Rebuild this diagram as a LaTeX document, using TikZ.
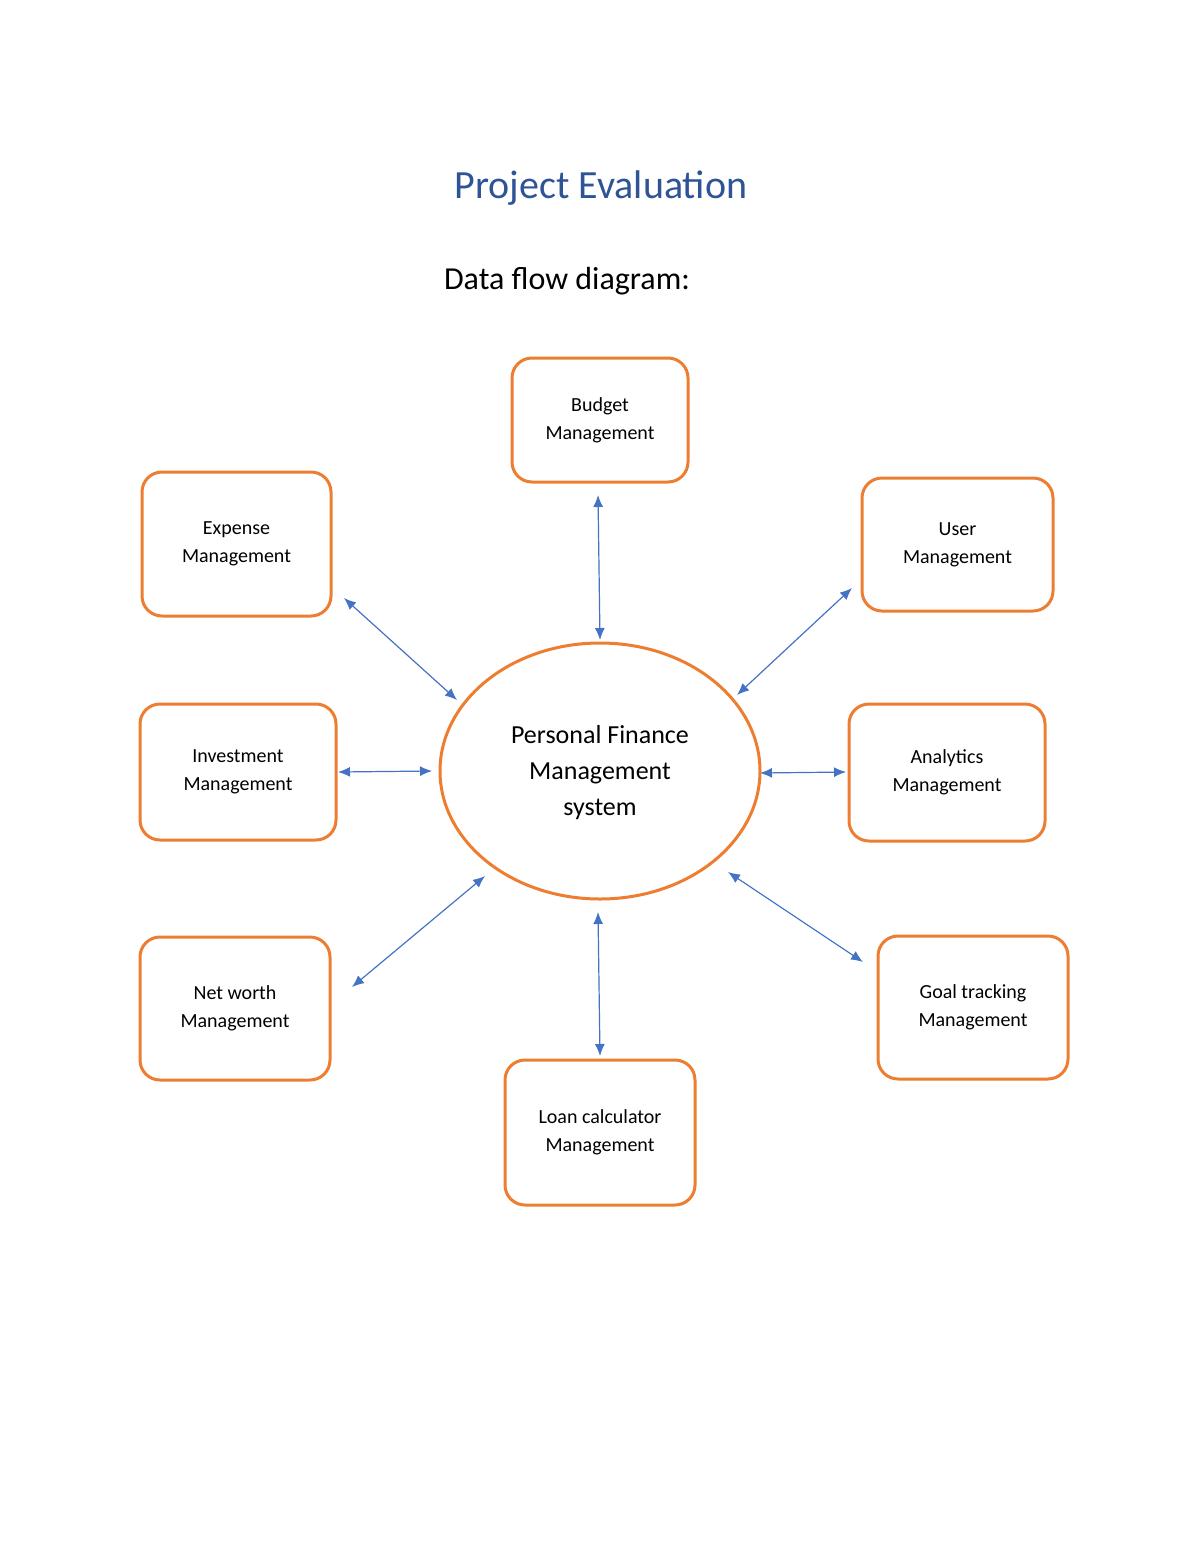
\documentclass[tikz,border=0pt]{standalone}
\usepackage{fontspec}
\setmainfont{Carlito}
\usetikzlibrary{arrows.meta,shapes.geometric}
\definecolor{org}{HTML}{ED7D31}
\definecolor{blu}{HTML}{4472C4}
\definecolor{ttl}{HTML}{2F5496}
\newcommand\mybox[6]{\draw[box] (#2,#3) rectangle (#4,#5); \node[align=center,font=\fontsize{10}{14}\selectfont] (#1) at ({(#2+#4)/2},{(#3+#5)/2}) {#6};}
\begin{document}
\begin{tikzpicture}[x=0.5pt,y=-0.5pt,
  box/.style={draw=org,line width=1.5pt,rounded corners=10pt},
  arr/.style={blu,line width=0.6pt,{Latex[length=6pt,width=5pt]}-{Latex[length=6pt,width=5pt]}}]
\useasboundingbox (0,0) rectangle (1200,1553);
\node[font=\fontsize{20}{24}\selectfont,text=ttl] (t) at (601,188) {Project Evaluation};
\node[font=\fontsize{16}{20}\selectfont] (s) at (567,281) {Data flow diagram:};
\node[draw=org,line width=1.5pt,ellipse,minimum width=160pt,minimum height=128pt,inner sep=0pt] (c) at (600,771) {};
\node[align=center,font=\fontsize{13}{18}\selectfont] (ct) at (600,773) {Personal Finance\\Management\\system};
\mybox{b}{512}{358}{688}{482}{Budget\\Management}
\mybox{e}{142}{472}{331}{616}{Expense\\Management}
\mybox{u}{862}{478}{1053}{611}{User\\Management}
\mybox{i}{140}{704}{336}{840}{Investment\\Management}
\mybox{a}{849}{704}{1045}{841}{Analytics\\Management}
\mybox{n}{140}{937}{330}{1080}{Net worth\\Management}
\mybox{g}{878}{936}{1068}{1079}{Goal tracking\\Management}
\mybox{l}{505}{1060}{695}{1205}{Loan calculator\\Management}
\foreach \n/\ax/\ay/\qx/\qy in {B/598/495/600/640, E/344/598/457/700, U/852/588/737/695, I/338/772/432/771, A/760/773/846/772, N/352/987/485/876, G/728/872/863/962, L/598/912/600/1056}{
  \coordinate (\n1) at (\ax,\ay); \coordinate (\n2) at (\qx,\qy);
  \draw[arr] (\n1) -- (\n2);}
\end{tikzpicture}
\end{document}
